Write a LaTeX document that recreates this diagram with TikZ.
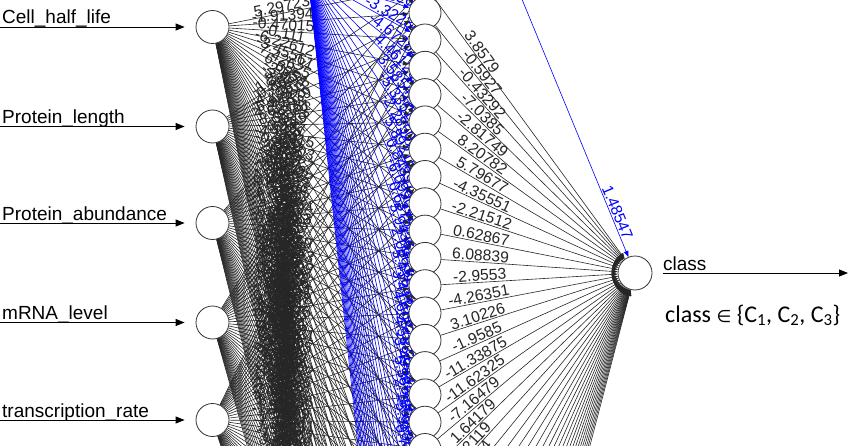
\documentclass[tikz,border=0pt]{standalone}
\usepackage{fontspec}
\setmainfont{Liberation Sans}
\newfontfamily\calib{Carlito}
\newfontfamily\symf{DejaVu Sans}
\usetikzlibrary{arrows.meta,calc}
\pgfdeclarelayer{edges}
\pgfsetlayers{edges,main}

\begin{document}
\begin{tikzpicture}[x=1pt,y=-1pt,
  inode/.style={circle,draw=black!80,fill=white,line width=0.8pt,minimum size=33pt,inner sep=0pt},
  hnode/.style={circle,draw=black!80,fill=white,line width=0.8pt,minimum size=32pt,inner sep=0pt},
  wline/.style={black!85,line width=0.6pt,-{Triangle[length=6pt,width=4.5pt]}},
  bline/.style={blue,line width=0.6pt,-{Triangle[length=6pt,width=4.5pt]}},
  wlabel/.style={sloped,above,inner sep=1pt,font=\fontsize{15.7}{16}\selectfont},
  blabel/.style={wlabel,text=blue},
  inarrow/.style={black,line width=0.9pt,-{Triangle[length=9pt,width=7pt]}},
  inlabel/.style={anchor=base west,inner sep=0pt,font=\fontsize{19}{20}\selectfont}]
  \useasboundingbox (0,0) rectangle (850,446);
  \clip (0,0) rectangle (850,446);

  % Input layer
  \foreach \i/\y/\t in {1/27/Cell\_half\_life,2/126.5/Protein\_length,3/223/Protein\_abundance,4/322.5/mRNA\_level,5/420/transcription\_rate} {
    \coordinate (s\i) at (0,\y);
    \node[inode] (in\i) at (212.5,\y) {};
    \node[inlabel] (t\i) at (2,\y-3) {\t};
  }

  % Hidden layer (runs on below the picture)
  \foreach \m in {0,...,40}
    \node[hnode] (h\m) at (425,-14.6+27.3*\m) {};

  % Output layer and bias points
  \node[inode,minimum size=34pt] (out) at (635,273) {};
  \coordinate (bh) at (308,-25);
  \coordinate (bo) at (514,-20);
  \coordinate (oend) at (848,273);

  \begin{pgfonlayer}{edges}
    % input -> hidden
    \foreach \i in {1,...,5}
      \foreach \m in {0,...,40} {
        \pgfmathsetmacro\w{9.3*sin(\i*131+\m*77)*cos(\m*23+\i*41)}
        \draw[wline] (in\i) -- node[wlabel,pos=0.3] {\w} (h\m);
      }
    % bias -> hidden
    \foreach \m in {0,...,40} {
      \pgfmathsetmacro\w{6.1*sin(\m*97+19)}
      \draw[bline] (bh) -- node[blabel,pos=0.8] {\w} (h\m);
    }
    % hidden -> output
    \foreach \m/\w in {0/3.8579,1/-0.5927,2/-0.43292,3/-7.0385,4/-2.81749,5/8.20782,6/5.79677,
        7/-4.35551,8/-2.21512,9/0.62867,10/6.08839,11/-2.9553,12/-4.26351,13/3.10226,
        14/-1.9585,15/-11.33875,16/-11.62325,17/-7.16479,18/1.64179,19/5.2119,20/-7.7954}
      \draw[wline] (h\m) -- node[wlabel,pos=0.22] {\w} (out);
    \foreach \m in {21,...,40} {
      \pgfmathsetmacro\w{8.4*sin(\m*113+7)}
      \draw[wline] (h\m) -- node[wlabel,pos=0.22] {\w} (out);
    }
    \draw[bline] (bo) -- node[blabel,pos=0.85] {1.48547} (out);
  \end{pgfonlayer}

  % Input and output arrows
  \foreach \i in {1,...,5}
    \draw[inarrow,shorten >=11pt] (s\i) -- (in\i);
  \draw[inarrow,shorten <=11pt] (out) -- (oend);
  \node[inlabel] (cl) at (663,270) {class};
  \node[anchor=base west,inner sep=0pt,font=\calib\fontsize{24}{26}\selectfont] (cset) at (665,322)
    {class {\symf\fontsize{17}{18}\selectfont ∈} \{C\textsubscript{1}, C\textsubscript{2}, C\textsubscript{3}\}};
\end{tikzpicture}
\end{document}
